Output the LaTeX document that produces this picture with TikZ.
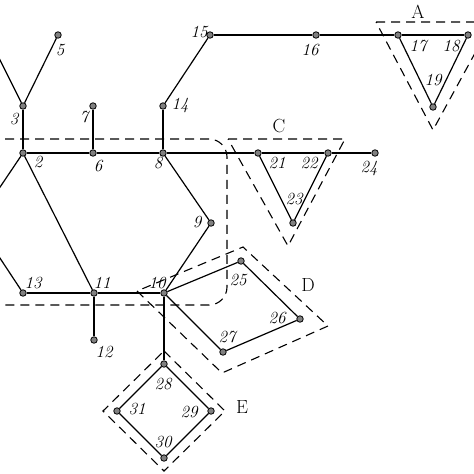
\documentclass[tikz,border=0pt]{standalone}
\usepackage{tikz}

\begin{document}
\begin{tikzpicture}[x=1pt,y=-1pt,
        vtx/.style={circle,draw,fill=gray,inner sep=0pt,minimum size=6.5pt,line width=0.8pt},
        lbl/.style={font=\fontsize{17}{17}\selectfont\itshape,inner sep=0pt},
        grp/.style={font=\fontsize{19}{19}\selectfont,inner sep=0pt},
        edge/.style={line width=1.2pt},
        zone/.style={dash pattern=on 9pt off 6pt,line width=1.1pt}
    ]
    \clip (0,0) rectangle (474,474);
    % dashed groups
    \draw[zone,rounded corners=18pt] (-10,139) -- (227,139) -- (227,305) -- (-10,305);
    \draw[zone] (376,22) -- (492,22) -- (433,130) -- cycle;
    \draw[zone] (228,139) -- (345,139) -- (288,246) -- cycle;
    \draw[zone] (137,291) -- (222,373) -- (328,326) -- (243,247) -- cycle;
    \draw[zone] (164,351) -- (225,411) -- (164,471) -- (103,411) -- cycle;
    \node[grp] (gA) at (418,12) {A};
    \node[grp] (gC) at (279,126) {C};
    \node[grp] (gD) at (308,285) {D};
    \node[grp] (gE) at (242,407) {E};
    % vertices
    \foreach \n/\x/\y in {2/23/153, 3/23/106, 5/58/35, 6/93/153, 7/93/106,
            8/163/153, 9/211/223, 10/164/293, 11/94/293, 12/94/340, 13/23/293,
            14/163/106, 15/210/35, 16/316/35, 17/398/35, 18/468/35, 19/433/107,
            21/258/153, 22/328/153, 23/293/223, 24/375/153, 25/241/261,
            26/300/319, 27/223/352, 28/164/364, 29/211/411, 30/164/458, 31/117/411}
        \node[vtx] (n\n) at (\x,\y) {};
    % edges leaving the picture
    \coordinate (o3) at (-10,40);
    \coordinate (o2) at (-10,202);
    \coordinate (o13) at (-10,243);
    \foreach \a in {3,2,13}
        \draw[edge] (n\a) -- (o\a);
    \foreach \a/\b in {3/5, 3/2, 2/6, 6/7, 6/8, 8/14, 14/15, 15/16, 16/17,
            17/18, 17/19, 18/19, 8/21, 21/22, 21/23, 22/23, 22/24, 8/9, 9/10,
            2/11, 11/13, 11/12, 11/10, 10/25, 25/26, 26/27, 27/10, 10/28,
            28/29, 29/30, 30/31, 31/28}
        \draw[edge] (n\a) -- (n\b);
    % vertex numbers
    \foreach \n/\x/\y in {2/38/162, 3/14/119, 5/60/50, 6/98/166, 7/84/117,
            8/158/163, 9/197/222, 10/157/283, 11/102/283, 12/104/352, 13/33/283,
            14/180/105, 15/199/32, 16/310/50, 17/418/46, 18/451/46, 19/433/80,
            21/277/163, 22/309/163, 23/294/199, 24/369/168, 25/238/280,
            26/277/318, 27/227/337, 28/163/384, 29/189/412, 30/163/442, 31/137/409}
        \node[lbl] (l\n) at (\x,\y) {\n};
\end{tikzpicture}
\end{document}
